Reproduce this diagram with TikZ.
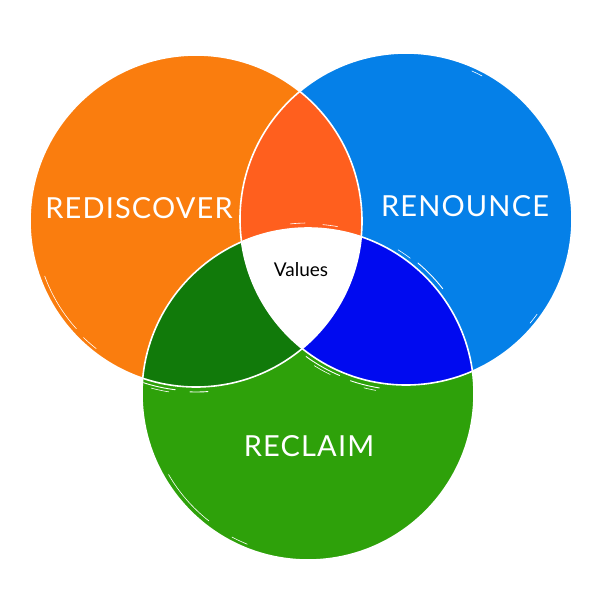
\documentclass[tikz,border=0pt]{standalone}
\usepackage{fontspec}
\newfontfamily\labelfont[LetterSpace=4]{Lato}
\newfontfamily\valuefont{Lato}
\definecolor{corange}{RGB}{250,125,14}
\definecolor{cblue}{RGB}{5,128,232}
\definecolor{cgreen}{RGB}{46,161,10}
\definecolor{cob}{RGB}{255,95,30}
\definecolor{cog}{RGB}{17,122,10}
\definecolor{cbg}{RGB}{0,10,240}
\tikzset{
  biglabel/.style={text=white, font=\labelfont\fontsize{29}{31}\selectfont, inner sep=0pt},
  smalllabel/.style={text=black, font=\valuefont\fontsize{19}{21}\selectfont, inner sep=0pt},
  rim/.style={draw=white, line width=1.6pt},
  streak/.style={draw=white, line width=0.9pt, line cap=round},
  thinstreak/.style={draw=white, line width=0.6pt, line cap=round}
}
\begin{document}
\begin{tikzpicture}[x=1pt,y=-1pt]
\useasboundingbox (0,0) rectangle (600,600);
\fill[white] (0,0) rectangle (600,600);
\coordinate (O) at (196,221);
\coordinate (B) at (406,219);
\coordinate (G) at (308,394);
\def\rr{166pt}
% base circles
\fill[corange] (O) circle[radius=\rr];
\fill[cblue] (B) circle[radius=\rr];
\fill[cgreen] (G) circle[radius=\rr];
% pairwise intersections
\begin{scope}
  \clip (O) circle[radius=\rr];
  \fill[cob] (B) circle[radius=\rr];
\end{scope}
\begin{scope}
  \clip (O) circle[radius=\rr];
  \fill[cog] (G) circle[radius=\rr];
\end{scope}
\begin{scope}
  \clip (B) circle[radius=\rr];
  \fill[cbg] (G) circle[radius=\rr];
\end{scope}
\begin{scope}
  \clip (O) circle[radius=\rr];
  \clip (B) circle[radius=\rr];
  \fill[white] (G) circle[radius=\rr];
\end{scope}
% white rims
\draw[rim] (O) circle[radius=\rr];
\draw[rim] (B) circle[radius=\rr];
\draw[rim] (G) circle[radius=\rr];
% brush streaks: below orange rim, in green
\draw[streak] (O) ++(-108:170pt) arc[start angle=-108, end angle=-97, radius=170pt];
\draw[thinstreak] (O) ++(-105:173pt) arc[start angle=-105, end angle=-99, radius=173pt];
\draw[streak] (O) ++(-92:171pt) arc[start angle=-92, end angle=-86, radius=171pt];
% below blue rim, in green
\draw[streak] (B) ++(-126:170pt) arc[start angle=-126, end angle=-113, radius=170pt];
\draw[thinstreak] (B) ++(-122:173pt) arc[start angle=-122, end angle=-116, radius=173pt];
\draw[streak] (B) ++(-109:171pt) arc[start angle=-109, end angle=-99, radius=171pt];
\draw[thinstreak] (B) ++(-104:174pt) arc[start angle=-104, end angle=-100, radius=174pt];
% above green rim, in light blue and orange-red
\draw[streak] (G) ++(38:171pt) arc[start angle=38, end angle=50, radius=171pt];
\draw[thinstreak] (G) ++(53:170pt) arc[start angle=53, end angle=58, radius=170pt];
\draw[thinstreak] (G) ++(80:170pt) arc[start angle=80, end angle=85, radius=170pt];
\draw[thinstreak] (G) ++(91:171pt) arc[start angle=91, end angle=96, radius=171pt];
% inside edge streaks
\draw[thinstreak] (G) ++(-150:161pt) arc[start angle=-150, end angle=-128, radius=161pt];
\draw[thinstreak] (G) ++(-118:162pt) arc[start angle=-118, end angle=-112, radius=162pt];
\draw[thinstreak] (O) ++(200:161pt) arc[start angle=200, end angle=222, radius=161pt];
\draw[thinstreak] (O) ++(226:162pt) arc[start angle=226, end angle=232, radius=162pt];
\draw[thinstreak] (B) ++(62:162pt) arc[start angle=62, end angle=66, radius=162pt];
\draw[thinstreak] (B) ++(-40:162pt) arc[start angle=-40, end angle=-36, radius=162pt];
% labels
\node[biglabel] (rediscover) at (139,208) {REDISCOVER};
\node[biglabel] (renounce) at (465,206) {RENOUNCE};
\node[biglabel] (reclaim) at (309,446) {RECLAIM};
\node[smalllabel] (values) at (301,270) {Values};
\end{tikzpicture}
\end{document}
